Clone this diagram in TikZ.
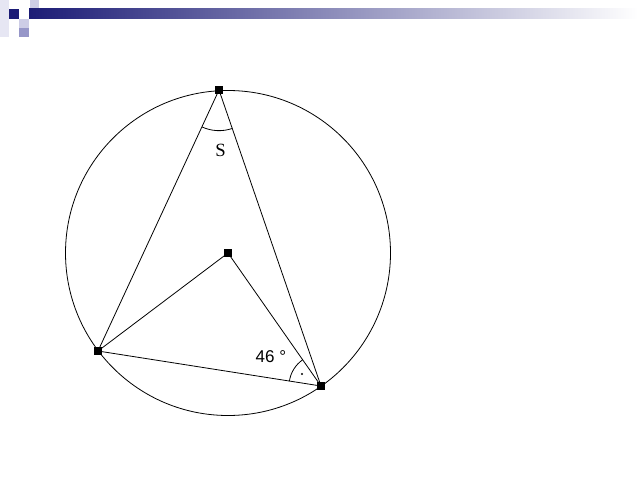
\documentclass[tikz,border=0pt]{standalone}
\usepackage{fontspec}
\setmainfont{Liberation Serif}
\newfontfamily\arialfont{Liberation Sans}
\usetikzlibrary{calc,positioning,angles}
\definecolor{navy}{RGB}{28,28,118}
\definecolor{lavender}{RGB}{150,150,200}
\definecolor{palelav}{RGB}{205,205,230}
\tikzstyle{vertex}=[rectangle, fill=black, inner sep=0pt, minimum size=5.5pt]
\tikzstyle{chord}=[black, line width=0.6pt]
\tikzstyle{tile}=[draw=none]

\begin{document}
\begin{tikzpicture}[x=0.75pt, y=-0.75pt]
    \useasboundingbox (0,0) rectangle (638,478);

    % title bar
    \fill[tile, palelav!50] (0,0) rectangle (9,37);
    \fill[tile, palelav] (30,0) rectangle (39,9);
    \shade[left color=navy, right color=white] (29,9) rectangle (638,19);
    \fill[tile, navy] (9,9) rectangle (19,19);
    \fill[tile, palelav] (19,19) rectangle (29,28);
    \fill[tile, lavender] (19,28) rectangle (29,37);

    \node (Middle) at (228,253) {};
    \draw[chord] (Middle.center) circle (162.5);

    \node (Top) [vertex] at (219,90) {};
    \node (Centre) [vertex] at (228,253) {};
    \node (Left) [vertex] at (98,351) {};
    \node (Right) [vertex] at (321,386) {};

    \draw[chord] (Top.center) -- (Left.center);
    \draw[chord] (Top.center) -- (Right.center);
    \draw[chord] (Left.center) -- (Right.center);
    \draw[chord] (Centre.center) -- (Left.center);
    \draw[chord] (Centre.center) -- (Right.center);

    \pic[draw, chord, angle radius=30.5pt] {angle = Left--Top--Right};
    \pic[draw, chord, angle radius=24pt] {angle = Centre--Right--Left};

    \node (SLabel) at (220.5,150) {\fontsize{14}{16}\selectfont S};
    \node (AngleLabel) at (271,357) {\arialfont\fontsize{12.8}{15}\selectfont 46 °};
    \fill (302,374) circle (0.8pt);
\end{tikzpicture}
\end{document}
